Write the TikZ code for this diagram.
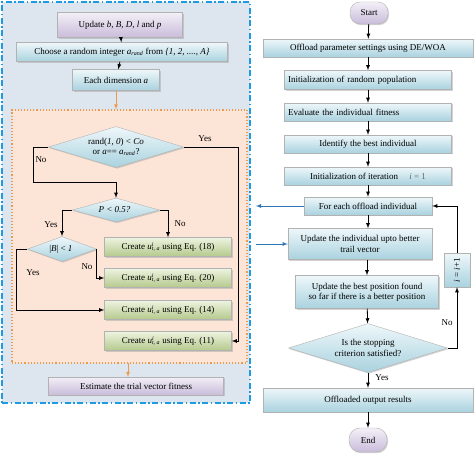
\documentclass[tikz,border=0pt]{standalone}
\usepackage{fontspec}
\setmainfont{Liberation Serif}
\usetikzlibrary{arrows,shapes,shadows}
\usepackage{xcolor}

\definecolor{regionblue}{HTML}{DDE5EF}
\definecolor{regionedge}{HTML}{1E9BE0}
\definecolor{innerpeach}{HTML}{FCE5D6}
\definecolor{inneredge}{HTML}{EE9A4C}
\definecolor{linkblue}{HTML}{2E75B6}
\definecolor{boxbluetop}{HTML}{EEF7FA}
\definecolor{boxbluebot}{HTML}{A9D2DF}
\definecolor{boxgreentop}{HTML}{EEF3E0}
\definecolor{boxgreenbot}{HTML}{B4C98C}
\definecolor{boxpurpletop}{HTML}{F3EFF7}
\definecolor{boxpurplebot}{HTML}{C9BCDA}

\begin{document}
\begin{tikzpicture}[x=1pt, y=-1pt,
    every node/.style={
        rectangle,
        inner sep=1pt,
        draw=gray!60,
        font=\fontsize{9}{10.4}\selectfont
    },
    blue_box/.style={top color=boxbluetop, bottom color=boxbluebot, drop shadow={shadow xshift=1pt, shadow yshift=-1.2pt, fill=gray!70}},
    green_box/.style={top color=boxgreentop, bottom color=boxgreenbot, drop shadow={shadow xshift=1pt, shadow yshift=-1.2pt, fill=gray!70}},
    purple_box/.style={top color=boxpurpletop, bottom color=boxpurplebot, drop shadow={shadow xshift=1pt, shadow yshift=-1.2pt, fill=gray!70}},
    decision/.style={diamond, inner sep=0pt, align=center, top color=boxbluetop, bottom color=boxbluebot, drop shadow={shadow xshift=1pt, shadow yshift=-1.2pt, fill=gray!70}},
    label_txt/.style={draw=none, fill=none}
]

    \useasboundingbox (0,0) rectangle (474,453);

    % regions of the left part
    \node (woa_de_region) [shift={(126,202.5)}, fill=regionblue, draw=regionedge, line width=1.6pt, dash pattern=on 6pt off 2.5pt on 1.5pt off 2.5pt, minimum width=248pt, minimum height=401pt] {};

    \node (dimension_region) [shift={(129.5,236.5)}, fill=innerpeach, draw=inneredge, line width=1.1pt, dotted, minimum width=235pt, minimum height=253pt] {};



    \node (update_parameters) [purple_box, shift={(120,25)}, minimum width=125pt, minimum height=25pt]
    {
        Update \textit{b}, \textit{B}, \textit{D}, \textit{l} and \textit{p}
    };

    \node (choose_random_integer) [blue_box, shift={(122,52)}, minimum width=211pt, minimum height=19pt]
    {
        Choose a random integer \textit{a}\textsubscript{\textit{rand}} from \textit{\{1, 2, ...., A\}}
    };

    \node (each_dimension) [blue_box, shift={(116,80)}, minimum width=87pt, minimum height=21pt]
    {
        Each dimension \textit{a}
    };

    \node (rand_diamond) [decision, aspect=3.3, shift={(116,147)}, minimum width=135pt, minimum height=41pt]
    {
        rand(\textit{1, 0}) \textless{} \textit{Co}\\ or \textit{a}== \textit{a}\textsubscript{\textit{rand}}?
    };

    \node (p_diamond) [decision, aspect=3.6, shift={(116,210)}, minimum width=87pt, minimum height=24pt]
    {
        \textit{P \textless{} 0.5?}
    };

    \node (b_diamond) [decision, aspect=2.8, shift={(62,249)}, minimum width=69pt, minimum height=25pt]
    {
        \textbar\textit{B}\textbar{} \textless{} \textit{1}
    };

    \node (create_eq18) [green_box, shift={(168,247)}, minimum width=127pt, minimum height=19pt]
    {
        Create \textit{u}\rlap{\textsuperscript{\textit{i}}}\textsubscript{\textit{t, a}} using Eq. (18)
    };

    \node (create_eq20) [green_box, shift={(168,278)}, minimum width=127pt, minimum height=19pt]
    {
        Create \textit{u}\rlap{\textsuperscript{\textit{i}}}\textsubscript{\textit{t, a}} using Eq. (20)
    };

    \node (create_eq14) [green_box, shift={(168,310)}, minimum width=127pt, minimum height=19pt]
    {
        Create \textit{u}\rlap{\textsuperscript{\textit{i}}}\textsubscript{\textit{t, a}} using Eq. (14)
    };

    \node (create_eq11) [green_box, shift={(168,341)}, minimum width=127pt, minimum height=19pt]
    {
        Create \textit{u}\rlap{\textsuperscript{\textit{i}}}\textsubscript{\textit{t, a}} using Eq. (11)
    };

    \node (estimate_trial_fitness) [purple_box, shift={(136,386)}, minimum width=175pt, minimum height=18pt]
    {
        Estimate the trial vector fitness
    };



    % right column
    \node (start) [purple_box, shift={(369,13)}, rounded corners=10pt, minimum width=38pt, minimum height=22pt]
    {
        Start
    };

    \node (offload_parameter_settings) [blue_box, shift={(368,48)}, minimum width=210pt, minimum height=18pt]
    {
        Offload parameter settings using DE/WOA
    };

    \node (init_random_population) [blue_box, shift={(368,80)}, minimum width=167pt, minimum height=19pt, text width=160pt, align=left]
    {
        Initialization of random population
    };

    \node (evaluate_individual_fitness) [blue_box, shift={(368,112)}, minimum width=167pt, minimum height=18pt, text width=160pt, align=left]
    {
        Evaluate the individual fitness
    };

    \node (identify_best_individual) [blue_box, shift={(368,144)}, minimum width=167pt, minimum height=18pt]
    {
        Identify the best individual
    };

    \node (init_iteration) [blue_box, shift={(368,176)}, minimum width=167pt, minimum height=18pt]
    {
        Initialization of iteration \quad\textcolor{gray!80!black}{\textit{i} = 1}
    };

    \node (for_each_offload) [blue_box, shift={(368,206)}, minimum width=128pt, minimum height=18pt]
    {
        For each offload individual
    };

    \node (update_individual) [blue_box, shift={(360,244)}, minimum width=144pt, minimum height=31pt, align=center]
    {
        Update the individual upto better\\ trail vector
    };

    \node (update_best_position) [blue_box, shift={(367,292)}, minimum width=143pt, minimum height=33pt, align=center]
    {
        Update the best position found\\ so far if there is a better position
    };

    \node (stopping_criterion) [decision, aspect=3.2, shift={(368,348)}, minimum width=159pt, minimum height=49pt]
    {
        Is the stopping\\ criterion satisfied?
    };

    \node (offloaded_output) [blue_box, shift={(368,400)}, minimum width=210pt, minimum height=24pt]
    {
        Offloaded output results
    };

    \node (end) [purple_box, shift={(368,440)}, rounded corners=11pt, minimum width=38pt, minimum height=24pt]
    {
        End
    };

    \node (iteration_counter) [blue_box, shift={(457,270)}, minimum width=26pt, minimum height=34pt]
    {
        \rotatebox{90}{\textit{i} = \textit{i}+1}
    };



    % left part connectors
    \coordinate (no_branch_corner) at (33,182);

    \draw[-latex, thick] (update_parameters) to (choose_random_integer);
    \draw[-latex, thick] (choose_random_integer) to (each_dimension);
    \draw[-latex, thick, inneredge] (each_dimension) to (each_dimension |- dimension_region.north);

    \draw[-latex, thick] (rand_diamond.east) -- ++(55,0) |- (create_eq11.east);
    \draw[-latex, thick] (rand_diamond.west) -| (no_branch_corner) -| (p_diamond.north);
    \draw[-latex, thick] (p_diamond.west) -| (b_diamond.north);
    \draw[-latex, thick] (p_diamond.east) -| (create_eq18.north);
    \draw[-latex, thick] (b_diamond.east) |- (create_eq20.west);
    \draw[-latex, thick] (b_diamond.west) -- ++(-11,0) |- (create_eq14.west);
    \draw[-latex, thick, inneredge] (128,363) to (128,377);

    \node (rand_yes) [label_txt, shift={(205,139)}] {Yes};
    \node (rand_no) [label_txt, shift={(41,160)}] {No};
    \node (p_yes) [label_txt, shift={(51,225)}] {Yes};
    \node (p_no) [label_txt, shift={(180,224)}] {No};
    \node (b_no) [label_txt, shift={(87,267)}] {No};
    \node (b_yes) [label_txt, shift={(33,273)}] {Yes};



    % right column connectors
    \draw[-latex, thick] (start) to (offload_parameter_settings);
    \draw[-latex, thick] (offload_parameter_settings) to (init_random_population);
    \draw[-latex, thick] (init_random_population) to (evaluate_individual_fitness);
    \draw[-latex, thick] (evaluate_individual_fitness) to (identify_best_individual);
    \draw[-latex, thick] (identify_best_individual) to (init_iteration);
    \draw[-latex, thick] (init_iteration) to (for_each_offload);
    \draw[-latex, thick] (for_each_offload) to (for_each_offload |- update_individual.north);
    \draw[-latex, thick] (update_individual.south -| update_best_position) to (update_best_position);
    \draw[-latex, thick] (update_best_position) to (stopping_criterion);
    \draw[-latex, thick] (stopping_criterion) to (offloaded_output);
    \draw[-latex, thick] (offloaded_output) to (end);

    \draw[-latex, thick] (stopping_criterion.east) -| (iteration_counter.south);
    \draw[-latex, thick] (iteration_counter.north) |- (for_each_offload.east);

    \draw[-latex, thick, linkblue] (for_each_offload.west) to ++(-48,0);
    \draw[-latex, thick, linkblue] (update_individual.west -| woa_de_region.east) ++(5,0) to (update_individual.west);

    \node (stop_no) [label_txt, shift={(447,323)}] {No};
    \node (stop_yes) [label_txt, shift={(382,378)}] {Yes};


\end{tikzpicture}
\end{document}
